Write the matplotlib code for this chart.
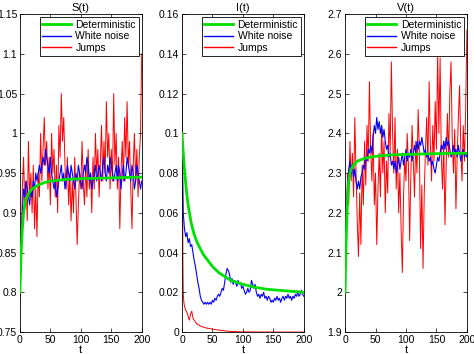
import numpy as np
import matplotlib
matplotlib.use('Agg')
import matplotlib.pyplot as plt

plt.rcParams['font.family'] = ['Liberation Sans', 'DejaVu Sans']
plt.rcParams['font.size'] = 7.5

# time grid for the noisy paths (step 2)
t = np.arange(0, 201, 2)

# ---- S(t) ----
det_t = [0, 2, 4, 6, 8, 10, 15, 20, 30, 40, 50, 75, 100, 150, 200]
det_S = [0.80, 0.85, 0.88, 0.90, 0.91, 0.917, 0.925, 0.93, 0.935, 0.938, 0.94, 0.942, 0.943, 0.944, 0.945]

white_S = [0.80, 0.86, 0.90, 0.93, 0.92, 0.94, 0.93, 0.92, 0.91, 0.93,
           0.92, 0.94, 0.93, 0.95, 0.94, 0.95, 0.96, 0.95, 0.96, 0.97,
           0.96, 0.98, 0.97, 0.96, 0.95, 0.97, 0.95, 0.94, 0.93, 0.94,
           0.92, 0.93, 0.94, 0.95, 0.96, 0.94, 0.95, 0.93, 0.94, 0.96,
           0.95, 0.94, 0.96, 0.95, 0.94, 0.93, 0.95, 0.94, 0.96, 0.95,
           0.94, 0.93, 0.95, 0.96, 0.95, 0.97, 0.96, 0.94, 0.95, 0.93,
           0.94, 0.95, 0.96, 0.94, 0.95, 0.96, 0.95, 0.94, 0.96, 0.97,
           0.95, 0.94, 0.96, 0.95, 0.97, 0.96, 0.95, 0.94, 0.95, 0.96,
           0.94, 0.96, 0.95, 0.93, 0.95, 0.96, 0.94, 0.95, 0.97, 0.96,
           0.95, 0.94, 0.96, 0.95, 0.93, 0.94, 0.96, 0.95, 0.94, 0.93,
           0.94]

jump_S = [0.79, 0.84, 0.93, 0.97, 0.91, 0.94, 0.89, 0.99, 0.92, 0.95,
          0.90, 0.96, 0.88, 0.93, 0.87, 0.95, 0.92, 1.00, 0.94, 0.98,
          1.02, 0.96, 0.99, 0.93, 0.97, 0.91, 1.00, 0.95, 0.98, 0.92,
          0.96, 0.90, 1.01, 0.97, 1.05, 0.99, 1.02, 0.96, 0.93, 0.97,
          0.91, 0.95, 0.89, 0.94, 0.90, 0.97, 0.92, 0.86, 0.91, 0.95,
          0.93, 0.99, 0.94, 0.91, 0.96, 0.92, 0.98, 0.93, 0.95, 0.90,
          0.97, 0.93, 1.00, 0.95, 0.98, 0.92, 0.96, 1.01, 0.94, 0.99,
          0.95, 1.04, 0.97, 1.00, 0.93, 0.98, 0.94, 1.05, 0.96, 1.00,
          0.93, 0.97, 0.88, 0.95, 0.99, 0.94, 1.02, 0.97, 1.04, 0.96,
          0.99, 0.93, 0.88, 0.96, 1.00, 0.94, 0.98, 0.92, 0.97, 1.00,
          1.10]

# ---- I(t) ----
det_tI = [0, 2, 4, 6, 8, 10, 15, 20, 25, 30, 35, 40, 50, 60, 70, 80, 100, 120, 140, 160, 180, 200]
det_I = [0.10, 0.09, 0.082, 0.075, 0.069, 0.064, 0.055, 0.049, 0.045, 0.042, 0.039, 0.037,
         0.033, 0.030, 0.028, 0.026, 0.024, 0.0225, 0.0215, 0.021, 0.0205, 0.020]

white_I = [0.10, 0.060, 0.052, 0.048, 0.050, 0.045, 0.047, 0.043, 0.044, 0.040,
           0.036, 0.033, 0.029, 0.025, 0.022, 0.018, 0.016, 0.015, 0.014, 0.015,
           0.014, 0.015, 0.014, 0.015, 0.014, 0.016, 0.015, 0.017, 0.016, 0.018,
           0.019, 0.018, 0.020, 0.022, 0.021, 0.025, 0.029, 0.032, 0.031, 0.029,
           0.025, 0.027, 0.024, 0.026, 0.025, 0.023, 0.026, 0.024, 0.025, 0.022,
           0.023, 0.021, 0.019, 0.020, 0.022, 0.020, 0.021, 0.026, 0.024, 0.022,
           0.024, 0.020, 0.018, 0.019, 0.017, 0.019, 0.018, 0.020, 0.017, 0.018,
           0.016, 0.018, 0.017, 0.015, 0.016, 0.015, 0.017, 0.016, 0.018, 0.016,
           0.017, 0.015, 0.017, 0.018, 0.016, 0.018, 0.017, 0.019, 0.017, 0.018,
           0.016, 0.018, 0.017, 0.019, 0.018, 0.020, 0.018, 0.019, 0.021, 0.019,
           0.018]

jump_tI = [0, 0.5, 1, 1.5, 2, 3, 4, 5, 6, 8, 10, 12, 14, 16, 18, 20, 22, 25, 28, 30,
           35, 40, 45, 50, 60, 70, 80, 90, 100, 150, 200]
jump_I = [0.16, 0.12, 0.07, 0.035, 0.02, 0.015, 0.013, 0.012, 0.011, 0.010, 0.008, 0.006,
          0.009, 0.0105, 0.007, 0.006, 0.005, 0.004, 0.0035, 0.003, 0.0025, 0.002,
          0.0018, 0.0015, 0.001, 0.0006, 0.0003, 0.0002, 0.0001, 0.0, 0.0]

# ---- V(t) ----
det_tV = [0, 1, 2, 3, 4, 5, 6, 8, 10, 15, 20, 30, 40, 60, 80, 100, 150, 200]
det_V = [2.0, 2.08, 2.14, 2.19, 2.23, 2.26, 2.28, 2.30, 2.31, 2.322, 2.33, 2.336, 2.34,
         2.344, 2.346, 2.347, 2.349, 2.35]

white_V = [2.00, 2.18, 2.27, 2.31, 2.33, 2.30, 2.32, 2.29, 2.31, 2.28,
           2.26, 2.28, 2.26, 2.29, 2.30, 2.32, 2.31, 2.34, 2.33, 2.36,
           2.35, 2.37, 2.35, 2.39, 2.42, 2.40, 2.44, 2.41, 2.43, 2.40,
           2.42, 2.39, 2.41, 2.38, 2.36, 2.37, 2.34, 2.35, 2.32, 2.33,
           2.31, 2.33, 2.30, 2.32, 2.34, 2.31, 2.33, 2.35, 2.32, 2.34,
           2.36, 2.33, 2.35, 2.34, 2.36, 2.33, 2.35, 2.37, 2.35, 2.38,
           2.36, 2.38, 2.37, 2.39, 2.37, 2.35, 2.36, 2.34, 2.35, 2.33,
           2.34, 2.32, 2.33, 2.31, 2.30, 2.32, 2.34, 2.33, 2.35, 2.37,
           2.36, 2.38, 2.36, 2.39, 2.37, 2.38, 2.36, 2.34, 2.35, 2.37,
           2.35, 2.36, 2.34, 2.37, 2.35, 2.33, 2.35, 2.36, 2.34, 2.35,
           2.34]

jump_V = [2.00, 2.15, 2.30, 2.22, 2.38, 2.28, 2.35, 2.24, 2.44, 2.30,
          2.18, 2.09, 2.25, 2.12, 2.32, 2.22, 2.38, 2.27, 2.42, 2.33,
          2.53, 2.36, 2.28, 2.40, 2.22, 2.30, 2.12, 2.26, 2.35, 2.24,
          2.42, 2.30, 2.38, 2.20, 2.33, 2.25, 2.45, 2.35, 2.58, 2.40,
          2.30, 2.44, 2.26, 2.36, 2.20, 2.30, 2.16, 2.05, 2.24, 2.34,
          2.28, 2.40, 2.32, 2.13, 2.30, 2.42, 2.33, 2.24, 2.38, 2.30,
          2.46, 2.35, 2.11, 2.27, 2.06, 2.25, 2.36, 2.44, 2.32, 2.53,
          2.37, 2.28, 2.42, 2.33, 2.48, 2.36, 2.60, 2.40, 2.59, 2.34,
          2.26, 2.38, 2.17, 2.32, 2.45, 2.34, 2.50, 2.58, 2.38, 2.30,
          2.41, 2.21, 2.34, 2.44, 2.52, 2.36, 2.28, 2.42, 2.33, 2.46,
          2.66]

panels = [
    ('S(t)', det_t, det_S, t, white_S, t, jump_S, (0.75, 1.15), np.arange(0.75, 1.151, 0.05)),
    ('I(t)', det_tI, det_I, t, white_I, jump_tI, jump_I, (0, 0.16), np.arange(0, 0.161, 0.02)),
    ('V(t)', det_tV, det_V, t, white_V, t, jump_V, (1.9, 2.7), np.arange(1.9, 2.71, 0.1)),
]

fig = plt.figure(figsize=(4.74, 3.54), dpi=100)
lefts = [0.042, 0.384, 0.728]
for left, (title, dt, dy, wt, wy, jt, jy, ylim, yticks) in zip(lefts, panels):
    ax = fig.add_axes([left, 0.062, 0.257, 0.898])
    ax.plot(dt, dy, color='#00e000', lw=2, label='Deterministic', zorder=3)
    ax.plot(wt, wy, color='#0000ff', lw=0.8, label='White noise', zorder=2)
    ax.plot(jt, jy, color='#ff0000', lw=0.7, label='Jumps', zorder=1)
    ax.set_xlim(0, 200)
    ax.set_ylim(*ylim)
    ax.set_xticks([0, 50, 100, 150, 200])
    ax.set_yticks(yticks)
    ax.set_yticklabels(['%g' % round(v, 2) for v in yticks])
    ax.tick_params(direction='in', top=True, right=True, length=3, width=0.5, pad=2, labelsize=7.5)
    for s in ax.spines.values():
        s.set_linewidth(0.6)
    ax.set_title(title, fontsize=8, pad=2)
    ax.set_xlabel('t', fontsize=8, labelpad=0)
    leg = ax.legend(loc='upper right', fontsize=7.5, fancybox=False, edgecolor='black',
                    framealpha=1, borderpad=0.25, labelspacing=0.15, handlelength=2.8,
                    handletextpad=0.4, borderaxespad=0.3)
    leg.get_frame().set_linewidth(0.6)
    for h in leg.get_lines():
        h.set_linewidth(max(h.get_linewidth(), 1.0))

fig.savefig('out.png', dpi=100)
